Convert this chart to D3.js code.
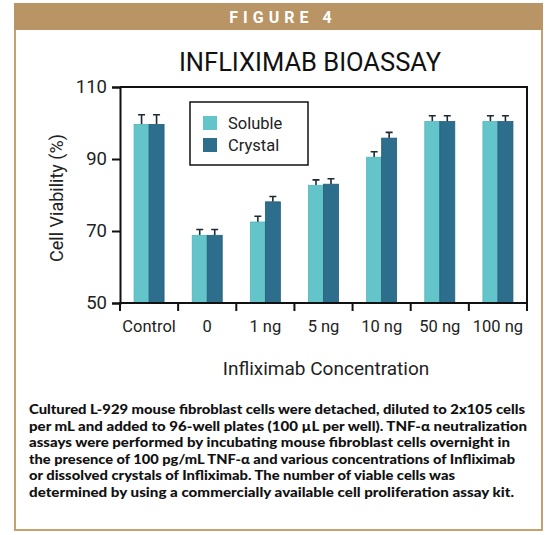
<!DOCTYPE html>
<html>
<head>
<meta charset="utf-8">
<script src="https://cdn.jsdelivr.net/npm/d3@7"></script>
<style>
  body { margin: 0; background: #fff; }
  svg text { font-family: Roboto, "Noto Sans", sans-serif; }
</style>
</head>
<body>
<svg id="chart" width="550" height="535"></svg>
<script>
// data
var categories = ["Control", "0", "1 ng", "5 ng", "10 ng", "50 ng", "100 ng"];
var seriesNames = ["Soluble", "Crystal"];
var soluble = [99.6, 68.8, 72.5, 82.7, 90.5, 100.4, 100.4];
var crystal = [99.6, 68.8, 78.1, 83.0, 95.8, 100.4, 100.4];
var solubleErr = [2.7, 1.6, 1.6, 1.5, 1.5, 1.6, 1.6];
var crystalErr = [2.7, 1.6, 1.5, 1.5, 1.6, 1.6, 1.6];
var yTicks = [50, 70, 90, 110];
var colors = ["#63c5c9", "#2d6e8d"];
var caption = [
  "Cultured L-929 mouse fibroblast cells were detached, diluted to 2x105 cells",
  "per mL and added to 96-well plates (100 \u00b5L per well). TNF-\u03b1 neutralization",
  "assays were performed by incubating mouse fibroblast cells overnight in",
  "the presence of 100 pg/mL TNF-\u03b1 and various concentrations of Infliximab",
  "or dissolved crystals of Infliximab. The number of viable cells was",
  "determined by using a commercially available cell proliferation assay kit."
];
var captionWidths = [496, 498, 481, 486, 426, 485];

var svg = d3.select("#chart");

// frame + header band
svg.append("rect")
   .attr("x", 15).attr("y", 4)
   .attr("width", 527).attr("height", 526)
   .attr("fill", "#fff")
   .attr("stroke", "#c4a072").attr("stroke-width", 2);
svg.append("rect")
   .attr("x", 14).attr("y", 3)
   .attr("width", 529).attr("height", 27)
   .attr("fill", "#b99565");
svg.append("text")
   .attr("x", 283).attr("y", 23)
   .attr("text-anchor", "middle")
   .attr("fill", "#fff")
   .style("font-size", "16px")
   .style("font-weight", "bold")
   .style("letter-spacing", "5px")
   .text("FIGURE 4");

svg.append("text")
   .attr("x", 310).attr("y", 71)
   .attr("text-anchor", "middle")
   .attr("fill", "#111")
   .style("font-size", "25.5px")
   .text("INFLIXIMAB BIOASSAY");

var plotLeft = 120, plotRight = 527, plotTop = 87, plotBottom = 303;

var x = d3.scaleBand().domain(categories).range([plotLeft, plotRight]);
var x1 = d3.scaleBand().domain(seriesNames).range([0, 30]);
var y = d3.scaleLinear().domain([50, 110]).range([plotBottom, plotTop]);

var rows = categories.map(function(c, i) {
  return {
    cat: c,
    vals: [
      { s: "Soluble", v: soluble[i], e: solubleErr[i] },
      { s: "Crystal", v: crystal[i], e: crystalErr[i] }
    ]
  };
});

var groups = svg.append("g").selectAll("g")
  .data(rows)
  .enter().append("g")
  .attr("transform", function(d) {
    return "translate(" + (x(d.cat) + x.bandwidth() / 2 - 15) + ",0)";
  });

// error bars first so the bars hide the lower half
groups.selectAll(".err")
  .data(function(d) { return d.vals; })
  .enter().append("path")
  .attr("class", "err")
  .attr("fill", "none")
  .attr("stroke", "#1d2a33")
  .attr("stroke-width", 1.6)
  .attr("d", function(d) {
    var cx = x1(d.s) + x1.bandwidth() / 2;
    var yt = y(d.v + d.e);
    return "M" + cx + "," + y(d.v) + "V" + yt + "M" + (cx - 3.5) + "," + yt + "H" + (cx + 3.5);
  });

groups.selectAll("rect")
  .data(function(d) { return d.vals; })
  .enter().append("rect")
  .attr("x", function(d) { return x1(d.s); })
  .attr("width", x1.bandwidth())
  .attr("y", function(d) { return y(d.v); })
  .attr("height", function(d) { return plotBottom - y(d.v); })
  .attr("fill", function(d, i) { return colors[i]; })
  .attr("stroke", function(d, i) { return i ? "#245d78" : "#55b5b9"; })
  .attr("stroke-width", 0.8);

// plot frame (top and right)
svg.append("path")
   .attr("fill", "none").attr("stroke", "#111").attr("stroke-width", 2)
   .attr("d", "M" + plotLeft + "," + plotTop + "H" + plotRight + "V" + plotBottom);

// y axis
var yAxis = svg.append("g")
  .attr("transform", "translate(" + plotLeft + ",0)")
  .call(d3.axisLeft(y).tickValues(yTicks).tickSize(8).tickPadding(5));
yAxis.select(".domain").attr("stroke", "#111").attr("stroke-width", 2);
yAxis.selectAll(".tick line").attr("stroke", "#111").attr("stroke-width", 2);
yAxis.selectAll("text").style("font-size", "18.5px").attr("fill", "#222");

// x axis: ticks sit on the band edges
var edges = categories.map(function(c) { return x(c); }).concat([plotRight]);
var xg = svg.append("g").attr("transform", "translate(0," + plotBottom + ")");
xg.append("line")
  .attr("x1", plotLeft - 1).attr("x2", plotRight + 1)
  .attr("stroke", "#111").attr("stroke-width", 2);
xg.selectAll(".xt")
  .data(edges)
  .enter().append("line")
  .attr("x1", function(d) { return d; }).attr("x2", function(d) { return d; })
  .attr("y1", 0).attr("y2", 8)
  .attr("stroke", "#111").attr("stroke-width", 2);
xg.selectAll(".xl")
  .data(categories)
  .enter().append("text")
  .attr("x", function(d) { return x(d) + x.bandwidth() / 2; })
  .attr("y", 29)
  .attr("text-anchor", "middle")
  .attr("fill", "#222")
  .style("font-size", "16.5px")
  .text(function(d) { return d; });

svg.append("text")
   .attr("x", 326).attr("y", 375)
   .attr("text-anchor", "middle")
   .attr("fill", "#222")
   .style("font-size", "19px")
   .text("Infliximab Concentration");

svg.append("text")
   .attr("transform", "translate(63,198) rotate(-90)")
   .attr("text-anchor", "middle")
   .attr("fill", "#222")
   .style("font-size", "18px")
   .text("Cell Viability (%)");

// legend
var lg = svg.append("g");
lg.append("rect")
  .attr("x", 190).attr("y", 102)
  .attr("width", 118).attr("height", 63)
  .attr("fill", "#fff").attr("stroke", "#111").attr("stroke-width", 1.5);
seriesNames.forEach(function(s, i) {
  lg.append("rect")
    .attr("x", 203).attr("y", 116 + i * 22)
    .attr("width", 14).attr("height", 14)
    .attr("fill", colors[i]);
  lg.append("text")
    .attr("x", 228).attr("y", 129 + i * 22)
    .attr("fill", "#222")
    .style("font-size", "16.5px")
    .text(s);
});

// caption
svg.append("g").selectAll("text")
  .data(caption)
  .enter().append("text")
  .attr("x", 29)
  .attr("y", function(d, i) { return 414 + i * 16.6; })
  .attr("textLength", function(d, i) { return captionWidths[i]; })
  .attr("lengthAdjust", "spacingAndGlyphs")
  .attr("fill", "#111")
  .style("font-family", "Lato, sans-serif")
  .style("font-size", "13.5px")
  .style("font-weight", "900")
  .text(function(d) { return d; });
</script>
</body>
</html>
